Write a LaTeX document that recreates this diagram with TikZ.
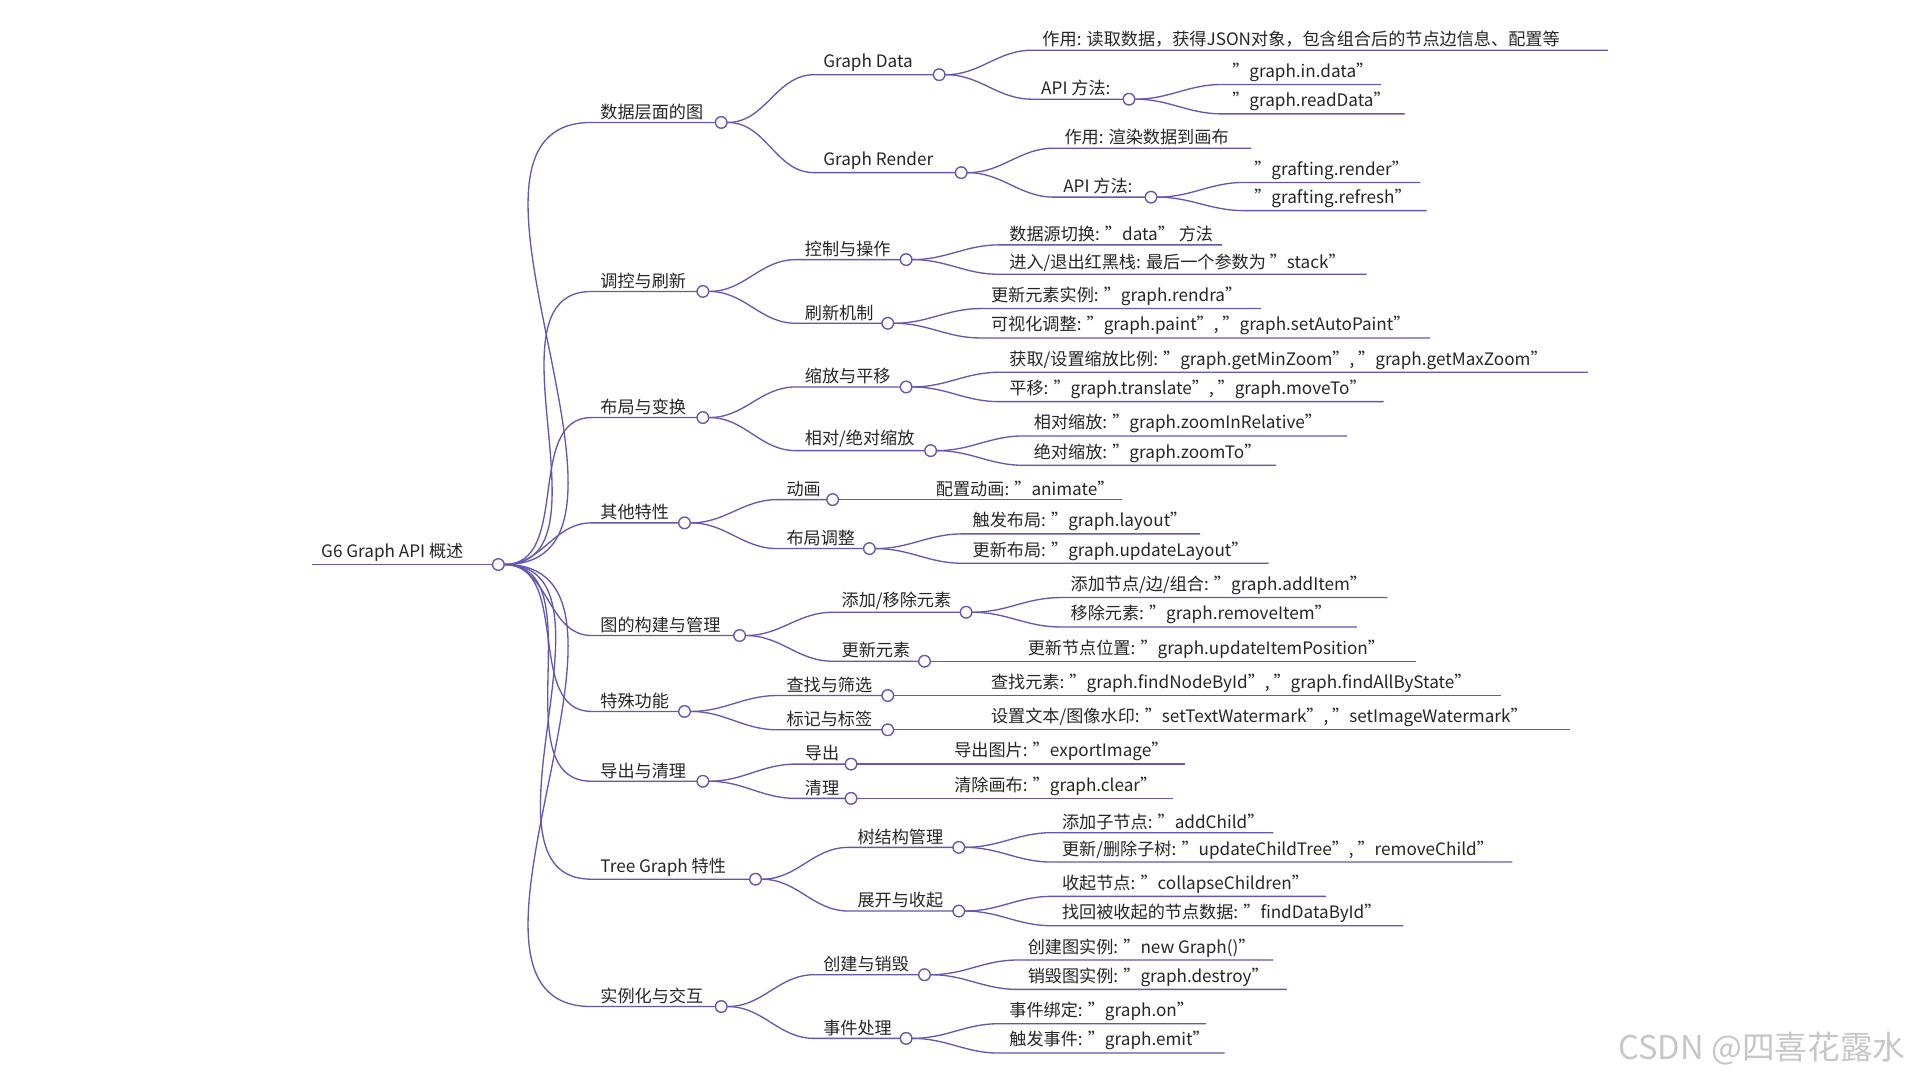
\documentclass[tikz,border=0pt]{standalone}
\usepackage{fontspec}
\setmainfont{Noto Sans CJK SC}
\definecolor{ln}{RGB}{98,88,178}
\tikzset{
  dot/.style={circle,draw=ln,fill=white,line width=0.6pt,inner sep=0pt,minimum size=5.6pt},
  lbl/.style={anchor=south west,inner sep=1.2pt,font=\fontsize{8.4}{9}\selectfont,text=black!85},
  conn/.style={draw=ln,line width=0.65pt}
}
% \br{name}{parent}{sx}{ex}{y}{text}  -- branch with circle at end
\newcommand\br[6]{%
  \draw[conn] (#2.east) to[out=0,in=180] (#3,#5) -- (#4,#5);
  \node[lbl] (#1t) at (#3+5,#5) {#6};
  \node[dot] (#1) at (#4,#5) {};}
% \lf{parent}{sx}{ex}{y}{text}{name} -- leaf
\newcommand\lf[6]{%
  \draw[conn] (#1.east) to[out=0,in=180] (#2,#4) -- (#3,#4);
  \node[lbl] (#6) at (#2+6,#4) {#5};}
\begin{document}
\begin{tikzpicture}[x=0.6pt,y=-0.6pt]
\useasboundingbox (0,0) rectangle (1568,882);
\fill[white] (0,0) rectangle (1568,882);
% root
\draw[conn] (255,461) -- (407,461);
\node[lbl] (roott) at (260,461) {G6 Graph API 概述};
\node[dot] (root) at (407,461) {};
% level 1
\br{a}{root}{483}{589}{100}{数据层面的图}
\br{b}{root}{483}{574}{238}{调控与刷新}
\br{c}{root}{483}{574}{341}{布局与变换}
\br{d}{root}{483}{559}{427}{其他特性}
\br{e}{root}{483}{604}{519}{图的构建与管理}
\br{f}{root}{483}{559}{581}{特殊功能}
\br{g}{root}{483}{574}{638}{导出与清理}
\br{h}{root}{483}{617}{718}{Tree Graph 特性}
\br{i}{root}{483}{589}{822}{实例化与交互}
% level 2
\br{a1}{a}{665}{767}{61}{Graph Data}
\br{a2}{a}{665}{785}{141}{Graph Render}
\br{b1}{b}{650}{740}{212}{控制与操作}
\br{b2}{b}{650}{725}{264}{刷新机制}
\br{c1}{c}{650}{740}{316}{缩放与平移}
\br{c2}{c}{650}{760}{368}{相对/绝对缩放}
\br{d1}{d}{635}{680}{408}{动画}
\br{d2}{d}{635}{710}{448}{布局调整}
\br{e1}{e}{680}{789}{500}{添加/移除元素}
\br{e2}{e}{680}{755}{540}{更新元素}
\br{f1}{f}{635}{725}{568}{查找与筛选}
\br{f2}{f}{635}{725}{596}{标记与标签}
\br{g1}{g}{650}{695}{624}{导出}
\br{g2}{g}{650}{695}{652}{清理}
\br{h1}{h}{693}{783}{692}{树结构管理}
\br{h2}{h}{693}{783}{744}{展开与收起}
\br{i1}{i}{665}{755}{796}{创建与销毁}
\br{i2}{i}{665}{740}{848}{事件处理}
% level 3
\lf{a1}{843}{1313}{41}{作用: 读取数据，获得JSON对象，包含组合后的节点边信息、配置等}{l1}
\br{a1b}{a1}{843}{922}{81}{API 方法:}
\lf{a1b}{998}{1128}{69}{"graph.in.data"}{l2}
\lf{a1b}{998}{1147}{93}{"graph.readData"}{l3}
\lf{a2}{861}{1022}{121}{作用: 渲染数据到画布}{l4}
\br{a2b}{a2}{861}{940}{161}{API 方法:}
\lf{a2b}{1016}{1160}{149}{"grafting.render"}{l5}
\lf{a2b}{1016}{1165}{172}{"grafting.refresh"}{l6}
\lf{b1}{816}{998}{200}{数据源切换: "data" 方法}{l7}
\lf{b1}{816}{1116}{224}{进入/退出红黑栈: 最后一个参数为 "stack"}{l8}
\lf{b2}{801}{1030}{252}{更新元素实例: "graph.rendra"}{l9}
\lf{b2}{801}{1168}{276}{可视化调整: "graph.paint", "graph.setAutoPaint"}{l10}
\lf{c1}{816}{1297}{304}{获取/设置缩放比例: "graph.getMinZoom", "graph.getMaxZoom"}{l11}
\lf{c1}{816}{1130}{328}{平移: "graph.translate", "graph.moveTo"}{l12}
\lf{c2}{836}{1100}{356}{相对缩放: "graph.zoomInRelative"}{l13}
\lf{c2}{836}{1042}{380}{绝对缩放: "graph.zoomTo"}{l14}
\lf{d1}{756}{916}{408}{配置动画: "animate"}{l15}
\lf{d2}{786}{980}{436}{触发布局: "graph.layout"}{l16}
\lf{d2}{786}{1036}{460}{更新布局: "graph.updateLayout"}{l17}
\lf{e1}{866}{1133}{488}{添加节点/边/组合: "graph.addItem"}{l18}
\lf{e1}{866}{1108}{512}{移除元素: "graph.removeItem"}{l19}
\lf{e2}{831}{1156}{540}{更新节点位置: "graph.updateItemPosition"}{l20}
\lf{f1}{801}{1226}{568}{查找元素: "graph.findNodeById", "graph.findAllByState"}{l21}
\lf{f2}{801}{1282}{596}{设置文本/图像水印: "setTextWatermark", "setImageWatermark"}{l22}
\lf{g1}{771}{968}{624}{导出图片: "exportImage"}{l23}
\lf{g2}{771}{958}{652}{清除画布: "graph.clear"}{l24}
\lf{h1}{859}{1040}{680}{添加子节点: "addChild"}{l25}
\lf{h1}{859}{1235}{704}{更新/删除子树: "updateChildTree", "removeChild"}{l26}
\lf{h2}{859}{1083}{732}{收起节点: "collapseChildren"}{l27}
\lf{h2}{859}{1146}{756}{找回被收起的节点数据: "findDataById"}{l28}
\lf{i1}{831}{1040}{784}{创建图实例: "new Graph()"}{l29}
\lf{i1}{831}{1051}{808}{销毁图实例: "graph.destroy"}{l30}
\lf{i2}{816}{985}{836}{事件绑定: "graph.on"}{l31}
\lf{i2}{816}{1000}{860}{触发事件: "graph.emit"}{l32}
% redraw circles on top
\foreach \n in {root,a,b,c,d,e,f,g,h,i,a1,a2,b1,b2,c1,c2,d1,d2,e1,e2,f1,f2,g1,g2,h1,h2,i1,i2,a1b,a2b}
  \node[dot] at (\n) {};
\node[anchor=east,text=black!22,font=\fontsize{16}{18}\selectfont] (wm) at (1562,856) {CSDN @四喜花露水};
\end{tikzpicture}
\end{document}
